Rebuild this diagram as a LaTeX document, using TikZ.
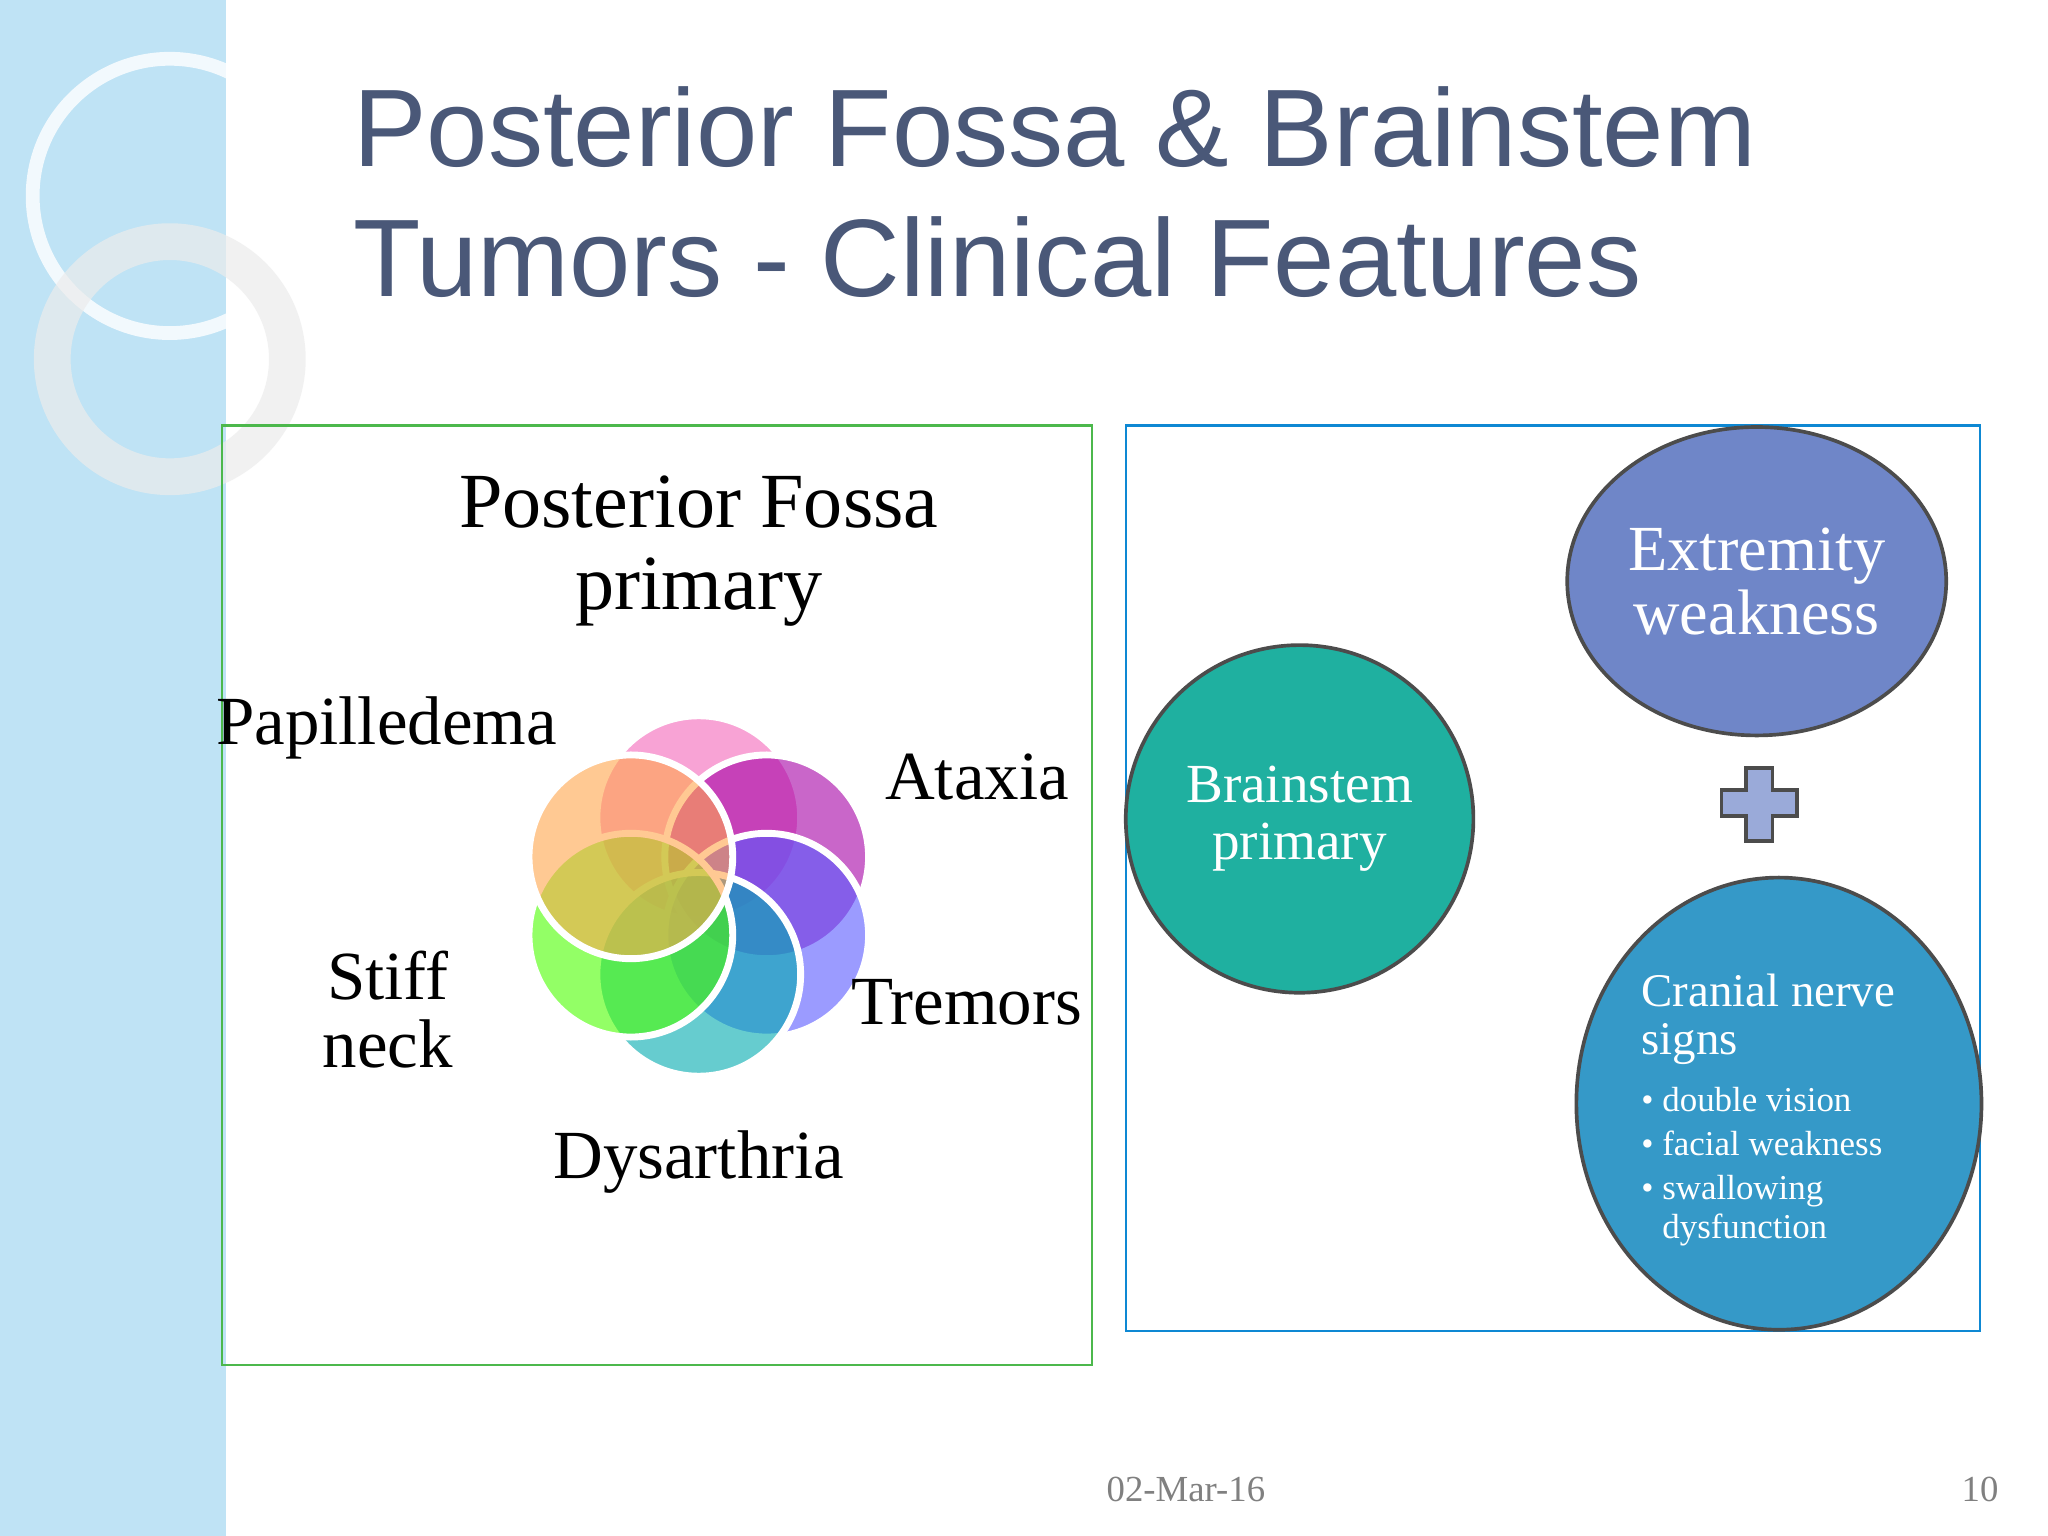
\documentclass[tikz,border=0pt]{standalone}
\usepackage{fontspec}
\setmainfont{Liberation Serif}
\newfontfamily\sansf{Liberation Sans}
\usetikzlibrary{shapes.geometric}
\definecolor{ttl}{HTML}{4A5878}
\definecolor{strip}{HTML}{BFE3F5}
\definecolor{teal1}{HTML}{1FB0A0}
\definecolor{blu1}{HTML}{6F86C8}
\definecolor{blu2}{HTML}{3599C8}
\begin{document}
\begin{tikzpicture}[x=0.01cm,y=-0.01cm,
  lbl/.style={font=\fontsize{15}{15}\selectfont,align=center},
  venn/.style={draw=white,line width=1.5pt,fill opacity=0.6},
  ball/.style={draw=black!70,line width=0.8pt,text=white,align=center,inner sep=0pt}]
\useasboundingbox (0,0) rectangle (1568,1176);
\fill[white] (0,0) rectangle (1568,1176);
\fill[strip] (0,0) rectangle (173,1176);
\draw[white,line width=3pt,opacity=0.8] (130,150) circle (105);
\draw[white!85!gray,line width=8pt,opacity=0.7] (130,275) circle (90);
\node[anchor=west,text=ttl,font=\sansf\fontsize{24}{30}\selectfont] (t1) at (258,97) {Posterior Fossa \& Brainstem};
\node[anchor=west,text=ttl,font=\sansf\fontsize{24}{30}\selectfont] (t2) at (258,197) {Tumors - Clinical Features};
\draw[green!60!black!70,line width=0.6pt] (170,326) rectangle (836,1045);
\draw[cyan!70!blue,line width=0.6pt] (862,326) rectangle (1516,1019);
\node[lbl,font=\fontsize{17}{18}\selectfont] (pf) at (535,422) {Posterior Fossa\\primary};
\fill[venn,fill=magenta!60] (535,626) circle (78);
\fill[venn,fill=violet!70!magenta] (587,656) circle (78);
\fill[venn,fill=blue!65] (587,716) circle (78);
\fill[venn,fill=cyan!60!green] (535,746) circle (78);
\fill[venn,fill=green!70!yellow] (483,716) circle (78);
\fill[venn,fill=orange!70] (483,656) circle (78);
\node[lbl] (pa) at (296,557) {Papilledema};
\node[lbl] (at) at (748,595) {Ataxia};
\node[lbl] (sn) at (297,773) {Stiff\\neck};
\node[lbl] (tr) at (740,767) {Tremors};
\node[lbl] (dy) at (535,890) {Dysarthria};
\node[ball,fill=teal1,circle,minimum size=2.66cm,font=\fontsize{12}{12.5}\selectfont] (bs) at (995,627) {Brainstem\\primary};
\node[ball,fill=blu1,ellipse,minimum width=2.9cm,minimum height=2.36cm,font=\fontsize{14}{14}\selectfont] (ew) at (1345,445) {Extremity\\weakness};
\node[ball,fill=blu2,ellipse,minimum width=3.1cm,minimum height=3.46cm] (cn) at (1362,845) {};
\node[anchor=north west,text=white,align=left,font=\fontsize{10.2}{10.5}\selectfont,inner sep=0pt] (cnt) at (1256,745) {Cranial nerve\\signs};
\node[anchor=north west,text=white,align=left,font=\fontsize{7.6}{8.5}\selectfont,inner sep=0pt] (cnl) at (1256,832) {\textbullet\ double vision\\[1pt]\textbullet\ facial weakness\\[1pt]\textbullet\ swallowing\\\phantom{\textbullet\ }dysfunction};
\draw[black!70,fill=blu1!70!white,line width=0.8pt] (1337,588)--(1357,588)--(1357,605)--(1376,605)--(1376,625)--(1357,625)--(1357,644)--(1337,644)--(1337,625)--(1318,625)--(1318,605)--(1337,605)--cycle;
\node[text=gray,font=\fontsize{8}{10}\selectfont] (dt) at (908,1140) {02-Mar-16};
\node[text=gray,font=\fontsize{8}{10}\selectfont] (pg) at (1516,1140) {10};
\end{tikzpicture}
\end{document}
